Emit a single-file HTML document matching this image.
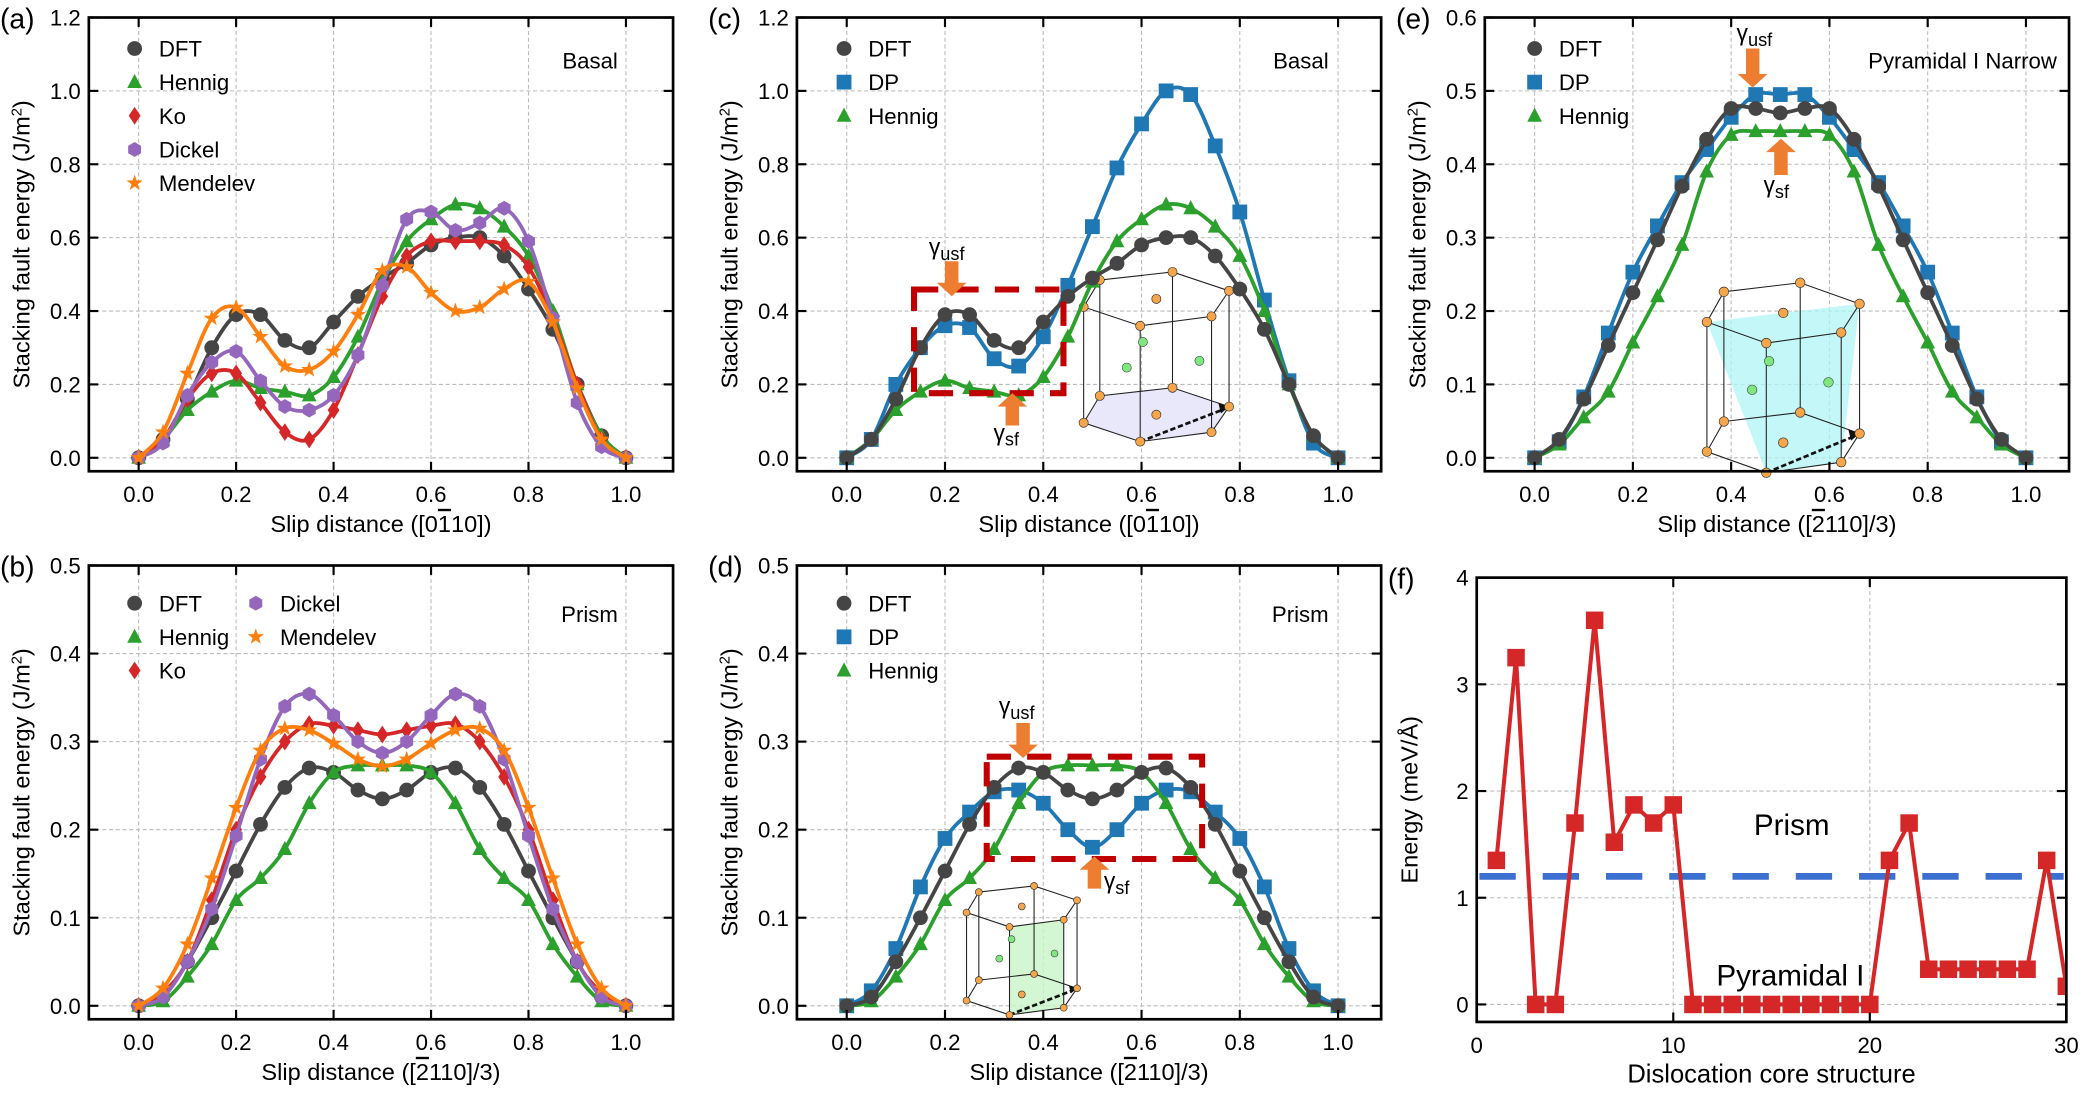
<!DOCTYPE html>
<html><head><meta charset="utf-8"><style>
html,body{margin:0;padding:0;background:#fff;}
svg{display:block;}
text{font-family:"Liberation Sans",sans-serif;fill:#000;}
</style></head><body>
<svg id="s" width="2100" height="1096" viewBox="0 0 1560 814" preserveAspectRatio="none" xmlns="http://www.w3.org/2000/svg"></svg>
<script>
const S=document.getElementById('s');let h='';
const C={DFT:'#454545',Hennig:'#2ca02c',Ko:'#d62728',Dickel:'#9467bd',Mendelev:'#ff7f0e',DP:'#1f77b4'};
const M={DFT:'c',Hennig:'t',Ko:'d',Dickel:'h',Mendelev:'s',DP:'q'};
function mk(t,x,y,c,r){r=r||5.5;x=+x;y=+y;
 if(t=='c')return `<circle cx="${x}" cy="${y}" r="${r}" fill="${c}"/>`;
 if(t=='q')return `<rect x="${x-r}" y="${y-r}" width="${2*r}" height="${2*r}" fill="${c}"/>`;
 if(t=='t')return `<polygon points="${x},${y-r*1.1} ${x-r},${y+r*0.8} ${x+r},${y+r*0.8}" fill="${c}"/>`;
 if(t=='d')return `<polygon points="${x},${y-r*1.2} ${x-r*0.8},${y} ${x},${y+r*1.2} ${x+r*0.8},${y}" fill="${c}"/>`;
 if(t=='h'){let p=[];for(let i=0;i<6;i++){let a=Math.PI/3*i+Math.PI/6;p.push((x+r*Math.cos(a)).toFixed(1)+','+(y+r*Math.sin(a)).toFixed(1));}return `<polygon points="${p.join(' ')}" fill="${c}"/>`;}
 if(t=='s'){let p=[];for(let i=0;i<10;i++){let a=-Math.PI/2+Math.PI/5*i,rr=i%2?r*0.45:r*1.15;p.push((x+rr*Math.cos(a)).toFixed(1)+','+(y+rr*Math.sin(a)).toFixed(1));}return `<polygon points="${p.join(' ')}" fill="${c}"/>`;}
 return '';
}
function smooth(P){let d=`M${P[0][0]},${P[0][1]}`;for(let i=0;i<P.length-1;i++){let p0=P[i-1]||P[i],p1=P[i],p2=P[i+1],p3=P[i+2]||p2;
 d+=` C${(p1[0]+(p2[0]-p0[0])/6).toFixed(1)},${(p1[1]+(p2[1]-p0[1])/6).toFixed(1)} ${(p2[0]-(p3[0]-p1[0])/6).toFixed(1)},${(p2[1]-(p3[1]-p1[1])/6).toFixed(1)} ${p2[0].toFixed(1)},${p2[1].toFixed(1)}`;}return d;}
function axes(p){
 let g='';
 p.xt.forEach(v=>{let x=p.X(v);g+=`<line x1="${x}" y1="${p.fy0}" x2="${x}" y2="${p.fy1}" stroke="#bbb" stroke-width="0.8" stroke-dasharray="3,2"/>`;});
 p.yt.forEach(v=>{let y=p.Y(v);g+=`<line x1="${p.fx0}" y1="${y}" x2="${p.fx1}" y2="${y}" stroke="#bbb" stroke-width="0.8" stroke-dasharray="3,2"/>`;});
 return g;}
function frame(p){let g=`<rect x="${p.fx0}" y="${p.fy0}" width="${p.fx1-p.fx0}" height="${p.fy1-p.fy0}" fill="none" stroke="#000" stroke-width="2"/>`;
 p.xt.forEach(v=>{let x=p.X(v);g+=`<line x1="${x}" y1="${p.fy1}" x2="${x}" y2="${p.fy1-7}" stroke="#000" stroke-width="1.6"/><line x1="${x}" y1="${p.fy0}" x2="${x}" y2="${p.fy0+7}" stroke="#000" stroke-width="1.6"/>`;
  g+=`<text x="${x}" y="${p.fy1+23}" font-size="16.5" text-anchor="middle">${p.xf(v)}</text>`;});
 p.yt.forEach(v=>{let y=p.Y(v);g+=`<line x1="${p.fx0}" y1="${y}" x2="${p.fx0+7}" y2="${y}" stroke="#000" stroke-width="1.6"/><line x1="${p.fx1}" y1="${y}" x2="${p.fx1-7}" y2="${y}" stroke="#000" stroke-width="1.6"/>`;
  g+=`<text x="${p.fx0-6}" y="${y+6}" font-size="16.5" text-anchor="end">${p.yf(v)}</text>`;});
 let cx=(p.fx0+p.fx1)/2;
 g+=`<text x="${cx}" y="${p.fy1+45}" font-size="${p.xls||17.5}" text-anchor="middle">${p.xl}</text>`;
 let cy=(p.fy0+p.fy1)/2;
 g+=`<text transform="translate(${p.fx0-44},${cy}) rotate(-90)" font-size="17.5" text-anchor="middle">${p.yl}</text>`;
 g+=`<text x="${p.fx0-66}" y="${p.fy0+8}" font-size="21">${p.lab}</text>`;
 return g;}
function series(p,name,vals){let c=C[name];let Q=vals.map((v,i)=>[p.X(i*0.05),p.Y(v)]);
 let g=`<path d="${smooth(Q)}" fill="none" stroke="${c}" stroke-width="2.8"/>`;Q.forEach(q=>g+=mk(M[name],q[0],q[1],c));return g;}
function sym(a){let r=a.slice();for(let i=a.length-2;i>=0;i--)r.push(a[i]);return r;}
const xt=[0,.2,.4,.6,.8,1],xf=v=>v.toFixed(1);
const yla='Stacking fault energy (J/m<tspan font-size="11" dy="-6">2</tspan><tspan dy="6">)</tspan>';
const xl1='Slip distance ([0<tspan text-decoration="overline">1</tspan>10])';
const xl2='Slip distance ([<tspan text-decoration="overline">2</tspan>110]/3)';
function mkP(fx0,X0,Y0,ys,fy0,fy1,yt,xl,lab){return {fx0:fx0,fx1:fx0+434,fy0:fy0,fy1:fy1,X:v=>X0+362*v,Y:v=>Y0-ys*v,xt:xt,yt:yt,xf:xf,yf:v=>v.toFixed(1),xl:xl,yl:yla,lab:lab};}
const pa=mkP(66,103,340,272.5,13,350,[0,.2,.4,.6,.8,1,1.2],xl1,'(a)');
const pc=mkP(592,629,340,272.5,13,350,[0,.2,.4,.6,.8,1,1.2],xl1,'(c)');pc.X=v=>629+365*v;
const pe=mkP(1103,1140,340,545,13,350,[0,.1,.2,.3,.4,.5,.6],xl2,'(e)');pe.X=v=>1140+365*v;
const pb=mkP(66,103,747,654,420,757,[0,.1,.2,.3,.4,.5],xl2,'(b)');
const pd=mkP(592,629,747,654,420,757,[0,.1,.2,.3,.4,.5],xl2,'(d)');pd.X=v=>629+365*v;
const DFTa=[0,0.05,0.16,0.30,0.39,0.39,0.32,0.30,0.37,0.44,0.49,0.53,0.58,0.60,0.60,0.55,0.46,0.35,0.20,0.06,0];
const HEa=[0,0.05,0.13,0.18,0.21,0.19,0.18,0.17,0.22,0.33,0.48,0.59,0.65,0.69,0.68,0.63,0.55,0.40,0.20,0.06,0];
const KOa=[0,0.05,0.16,0.23,0.23,0.15,0.07,0.05,0.13,0.28,0.44,0.55,0.59,0.59,0.59,0.58,0.52,0.38,0.20,0.05,0];
const DIa=[0,0.04,0.17,0.26,0.29,0.21,0.14,0.13,0.17,0.28,0.47,0.65,0.67,0.62,0.64,0.68,0.59,0.38,0.15,0.03,0];
const MEa=[0,0.07,0.23,0.38,0.41,0.33,0.25,0.24,0.29,0.39,0.51,0.52,0.45,0.40,0.41,0.46,0.48,0.37,0.19,0.05,0];
const DPc=[0,0.05,0.20,0.30,0.36,0.355,0.27,0.25,0.33,0.47,0.63,0.79,0.91,1.0,0.99,0.85,0.67,0.43,0.21,0.04,0];
const DFTb=sym([0,0.01,0.05,0.10,0.153,0.206,0.248,0.27,0.265,0.245,0.235]);
const HEb=sym([0,0.005,0.033,0.07,0.12,0.145,0.178,0.23,0.265,0.273,0.273]);
const KOb=sym([0,0.015,0.05,0.12,0.20,0.26,0.30,0.32,0.318,0.313,0.308]);
const DIb=sym([0,0.01,0.05,0.11,0.193,0.28,0.34,0.354,0.33,0.30,0.287]);
const MEb=sym([0,0.02,0.07,0.145,0.225,0.29,0.315,0.313,0.298,0.28,0.272]);
const DPd=sym([0,0.017,0.065,0.135,0.19,0.22,0.243,0.245,0.23,0.2,0.18]);
const DFTe=[0,0.025,0.08,0.153,0.225,0.297,0.37,0.434,0.476,0.476,0.47,0.476,0.476,0.434,0.37,0.297,0.225,0.153,0.08,0.025,0];
const DPe=[0,0.022,0.083,0.17,0.253,0.316,0.375,0.42,0.464,0.495,0.495,0.495,0.464,0.42,0.375,0.316,0.253,0.17,0.083,0.022,0];
const HEe=[0,0.018,0.055,0.09,0.157,0.22,0.29,0.39,0.44,0.445,0.445,0.445,0.44,0.39,0.29,0.22,0.157,0.09,0.055,0.018,0];
function legend(x,y,names,dy){let g='';names.forEach((n,i)=>{g+=mk(M[n],x,y+i*dy,C[n],5.5)+`<text x="${x+18}" y="${y+i*dy+6}" font-size="16.5">${n}</text>`;});return g;}
function hexInset(ox,oy,s,plane,sy){sy=sy||s;
 const T=[[12,6],[66,0],[108,14],[95,33],[42,40],[0,26]];const H=86;
 const t=T.map(q=>[ox+q[0]*s,oy+q[1]*sy]);const bt=T.map(q=>[ox+q[0]*s,oy+(q[1]+H)*sy]);
 const pt=q=>q[0]+','+q[1];
 let g='';
 if(plane=='basal')g+=`<polygon points="${bt.map(pt).join(' ')}" fill="#e6e6fa" opacity="0.9"/>`;
 if(plane=='prism')g+=`<polygon points="${pt(t[4])} ${pt(t[3])} ${pt(bt[3])} ${pt(bt[4])}" fill="#c8f5c8" opacity="0.8"/>`;
 if(plane=='pyr')g+=`<polygon points="${pt(t[5])} ${pt(t[2])} ${pt(bt[3])} ${pt(bt[4])}" fill="#b0f4f4" opacity="0.75"/>`;
 const poly=A=>`<polygon points="${A.map(pt).join(' ')}" fill="none" stroke="#222" stroke-width="0.8"/>`;
 g+=poly(t)+poly(bt);
 for(let i=0;i<6;i++)g+=`<line x1="${t[i][0]}" y1="${t[i][1]}" x2="${bt[i][0]}" y2="${bt[i][1]}" stroke="#222" stroke-width="0.8"/>`;
 g+=`<line x1="${bt[4][0]}" y1="${bt[4][1]}" x2="${bt[2][0]-4*s}" y2="${bt[2][1]+2*s}" stroke="#111" stroke-width="2" stroke-dasharray="4,2"/>`;
 g+=`<polygon points="${bt[2][0]},${bt[2][1]} ${bt[2][0]-8*s},${bt[2][1]-3*s} ${bt[2][0]-6*s},${bt[2][1]+5*s}" fill="#111"/>`;
 const all=t.concat(bt);all.push([ox+54*s,oy+20*sy]);all.push([ox+54*s,oy+(20+H)*sy]);
 all.forEach(q=>{g+=`<circle cx="${q[0]}" cy="${q[1]}" r="${3.4*s}" fill="#f7a54a" stroke="#333" stroke-width="0.5"/>`;});
 const gr=[[44,52],[32,71],[86,66]];
 gr.forEach(q=>{g+=`<circle cx="${ox+q[0]*s}" cy="${oy+q[1]*sy}" r="${3.4*s}" fill="#7ee87e" stroke="#333" stroke-width="0.4"/>`;});
 return g;}
function arrow(x,y0,y1){
 let dir=y1>y0?1:-1;let hb=y1-dir*10;
 return `<polygon points="${x-5},${y0} ${x+5},${y0} ${x+5},${hb} ${x+11},${hb} ${x},${y1} ${x-11},${hb} ${x-5},${hb}" fill="#ed7d31"/>`;}
function gam(x,y,sub){return `<text x="${x}" y="${y}" font-size="17" font-family="Liberation Serif,serif">γ<tspan font-family="Liberation Sans,sans-serif" font-size="13.5" dy="4">${sub}</tspan></text>`;}
// panel a
h+=axes(pa);['DFT','Hennig','Ko','Dickel','Mendelev'].forEach((n,i)=>{h+=series(pa,n,[DFTa,HEa,KOa,DIa,MEa][i]);});
h+=frame(pa)+legend(100,36,['DFT','Hennig','Ko','Dickel','Mendelev'],25)+`<text x="459" y="51" font-size="16.5" text-anchor="end">Basal</text>`;
// panel b
h+=axes(pb);['DFT','Hennig','Ko','Dickel','Mendelev'].forEach((n,i)=>{h+=series(pb,n,[DFTb,HEb,KOb,DIb,MEb][i]);});
h+=frame(pb)+legend(100,448,['DFT','Hennig','Ko'],25)+legend(190,448,['Dickel','Mendelev'],25)+`<text x="459" y="462" font-size="16.5" text-anchor="end">Prism</text>`;
// panel c
h+=axes(pc);h+=hexInset(805,202,1,'basal');
h+=series(pc,'DP',DPc)+series(pc,'Hennig',HEa)+series(pc,'DFT',DFTa);
h+=`<rect x="679" y="215" width="111" height="77" fill="none" stroke="#c00000" stroke-width="4.5" stroke-dasharray="18,12"/>`;
h+=arrow(707,194,220)+arrow(752,316,292)+gam(690,189,'usf')+gam(738,327,'sf');
h+=frame(pc)+legend(627,36,['DFT','DP','Hennig'],25)+`<text x="987" y="51" font-size="16.5" text-anchor="end">Basal</text>`;
// panel d
h+=axes(pd);h+=hexInset(718,658,0.76,'prism');
h+=series(pd,'DP',DPd)+series(pd,'Hennig',HEb)+series(pd,'DFT',DFTb);
h+=`<rect x="733" y="562" width="160" height="76" fill="none" stroke="#c00000" stroke-width="4.5" stroke-dasharray="18,12"/>`;
h+=arrow(760,537,563)+arrow(813,660,636)+gam(742,530,'usf')+gam(820,660,'sf');
h+=frame(pd)+legend(627,448,['DFT','DP','Hennig'],25)+`<text x="987" y="462" font-size="16.5" text-anchor="end">Prism</text>`;
// panel e
h+=axes(pe);h+=hexInset(1268,210,1.05,'pyr',1.12);
h+=series(pe,'DP',DPe)+series(pe,'Hennig',HEe)+series(pe,'DFT',DFTe);
h+=arrow(1302,36,65)+arrow(1323,130,103)+gam(1290,30,'usf')+gam(1310,143,'sf');
h+=frame(pe)+legend(1140,36,['DFT','DP','Hennig'],25)+`<text x="1528" y="51" font-size="16.5" text-anchor="end">Pyramidal I Narrow</text>`;
// panel f
const pf={fx0:1097,fx1:1535,fy0:429,fy1:759,X:v=>1097+14.6*v,Y:v=>746-79.25*v,xt:[0,10,20,30],yt:[0,1,2,3,4],xf:v=>v,yf:v=>v,xl:'Dislocation core structure',xls:19,yl:'Energy (meV/Å)',lab:'(f)'};
h+=axes(pf);
const fv=[1.35,3.25,0,0,1.7,3.6,1.52,1.87,1.7,1.87,0,0,0,0,0,0,0,0,0,0,1.35,1.7,0.33,0.33,0.33,0.33,0.33,0.33,1.35,0.17];
h+=`<line x1="${pf.fx0+2}" y1="${pf.Y(1.2)}" x2="${pf.fx1-2}" y2="${pf.Y(1.2)}" stroke="#3b6fd0" stroke-width="5" stroke-dasharray="27,20"/>`;
h+=`<svg x="${pf.fx0}" y="${pf.fy0}" width="${pf.fx1-pf.fx0}" height="${pf.fy1-pf.fy0}" viewBox="${pf.fx0} ${pf.fy0} ${pf.fx1-pf.fx0} ${pf.fy1-pf.fy0}" overflow="hidden">`;
h+=`<polyline points="${fv.map((v,i)=>pf.X(i+1)+','+pf.Y(v)).join(' ')}" fill="none" stroke="#d62728" stroke-width="3"/>`;
fv.forEach((v,i)=>{h+=mk('q',pf.X(i+1),pf.Y(v),'#d62728',6.5);});h+='</svg>';
h+=frame(pf);
h+=`<text x="1331" y="620" font-size="22" text-anchor="middle">Prism</text><text x="1330" y="732" font-size="22" text-anchor="middle">Pyramidal I</text>`;
S.innerHTML=h;
</script>
</body></html>
